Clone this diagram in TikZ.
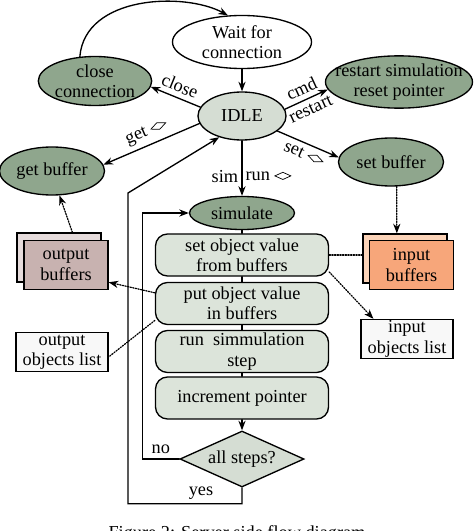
\documentclass[tikz,border=0pt]{standalone}
\usepackage{fontspec}
\setmainfont{Liberation Serif}
\usepackage{tikz}
\usetikzlibrary{arrows.meta,shapes.geometric}
\usepackage{xcolor}
\definecolor{stategreen}{RGB}{143,166,141}
\definecolor{idlegreen}{RGB}{213,221,211}
\definecolor{stepgreen}{RGB}{220,228,218}
\definecolor{outfront}{RGB}{200,178,176}
\definecolor{outback}{RGB}{229,219,219}
\definecolor{infront}{RGB}{247,166,122}
\definecolor{inback}{RGB}{251,211,184}
\definecolor{listfill}{RGB}{248,248,248}
\newcommand{\flatdiam}{\tikz[baseline=-0.6ex]\draw[line width=0.5pt] (0cm,0cm)--(0.2cm,0.09cm)--(0.4cm,0cm)--(0.2cm,-0.09cm)--cycle;}

\begin{document}
\begin{tikzpicture}[x=0.025cm,y=-0.025cm,>={Stealth[length=2.4mm]},font=\fontsize{13}{14.5}\selectfont,line cap=round,line width=0.95pt,
  state/.style={ellipse,draw,inner sep=0pt,align=center},
  stepbox/.style={rectangle,draw,rounded corners=0.3cm,fill=stepgreen,minimum width=4.325cm,minimum height=1.05cm,align=center,inner sep=0pt},
  bufbox/.style={rectangle,draw,minimum width=2.1cm,minimum height=1.225cm,align=center,inner sep=0pt},
  listbox/.style={rectangle,draw,fill=listfill,minimum width=2.3cm,minimum height=0.975cm,align=center,inner sep=0pt},
  dataflow/.style={densely dotted,line width=0.9pt}]
\useasboundingbox (0,0) rectangle (474,531);
% states round the idle loop
\node[state,fill=white,minimum width=3.475cm,minimum height=1.325cm] (wait) at (242,42) {Wait for\\connection};
\node[state,fill=idlegreen,minimum width=2.2cm,minimum height=1.2cm] (idle) at (242,116) {IDLE};
\node[state,fill=stategreen,minimum width=2.675cm,minimum height=1.225cm] (closecon) at (95,81) {close\\connection};
\node[state,fill=stategreen,minimum width=3.675cm,minimum height=1.1cm,inner xsep=-0.3cm] (restart) at (399,82) {restart simulation\\reset pointer};
\node[state,fill=stategreen,minimum width=2.625cm,minimum height=1.2cm] (getbuf) at (52,171) {get buffer};
\node[state,fill=stategreen,minimum width=2.625cm,minimum height=1.2cm] (setbuf) at (391,162) {set buffer};
\node[state,fill=stategreen,minimum width=2.625cm,minimum height=0.825cm] (simulate) at (242,213) {simulate};
% simulation steps
\node[stepbox] (setobj) at (242,255) {set object value\\from buffers};
\node[stepbox] (putobj) at (242,303.5) {put object value\\in buffers};
\node[stepbox] (runstep) at (242,351.5) {run~ simmulation\\step};
\node[stepbox] (incptr) at (242,398) {increment pointer};
\node[diamond,draw,fill=idlegreen,aspect=2.2,inner sep=0pt,minimum width=3.1cm,minimum height=1.4cm] (allsteps) at (242,459) {all steps?};
% buffers and lists
\node[bufbox,fill=outback] (outbufback) at (59,257.5) {};
\node[bufbox,fill=outfront] (outbuf) at (66,265) {output\\buffers};
\node[bufbox,fill=inback] (inbufback) at (405,258.5) {};
\node[bufbox,fill=infront] (inbuf) at (411.5,265) {input\\buffers};
\node[listbox] (outlist) at (62,352) {output\\objects list};
\node[listbox] (inlist) at (407,339) {input\\objects list};
% transitions
\draw[->] (closecon.122) .. controls (85,-5) and (185,-8) .. (wait.118);
\draw[->] (wait) -- (idle);
\draw[->] (idle.168) -- (closecon.-6) node[midway,above,sloped]{close};
\draw[->] (idle.9) -- (restart.186) node[midway,above,sloped]{cmd} node[midway,below,sloped]{restart};
\draw[->] (idle.190) -- (getbuf.7) node[midway,above,sloped]{get \flatdiam};
\draw[->] (idle.-23) -- (setbuf.175) node[midway,below,sloped]{set \flatdiam};
\draw[->] (idle) -- (simulate) node[pos=0.65,left=-1pt]{sim} node[pos=0.65,right=-1pt]{run \flatdiam};
\draw (simulate) -- (setobj);
\draw (setobj) -- (putobj);
\draw (putobj) -- (runstep);
\draw (runstep) -- (incptr);
\draw[->] (incptr) -- (allsteps);
\draw[->] (allsteps.west) -- ++(-37,0) node[midway,above]{no} |- (simulate.west);
\coordinate (yesturn) at (128,193);
\draw[->] (allsteps.south) -- ++(0,16) -| (yesturn) node[pos=0.18,above=-1pt]{yes} -- (idle.223);
% data flow
\draw[dataflow,->] (outbufback.62) -- (getbuf.-73);
\draw[dataflow,->] (setbuf.-77) -- (inbufback.108);
\draw[dataflow] (setobj.east) -- (setobj.east -| inbufback.west);
\draw[dataflow,->] (setobj.-11) -- (inlist.149);
\draw[dataflow,->] (putobj.173) -- (outbuf.-22);
\draw[dataflow] (putobj.191) -- (outlist.-6);
\node[anchor=north] (caption) at (237,520) {Figure 2: Server side flow diagram};
\end{tikzpicture}
\end{document}
